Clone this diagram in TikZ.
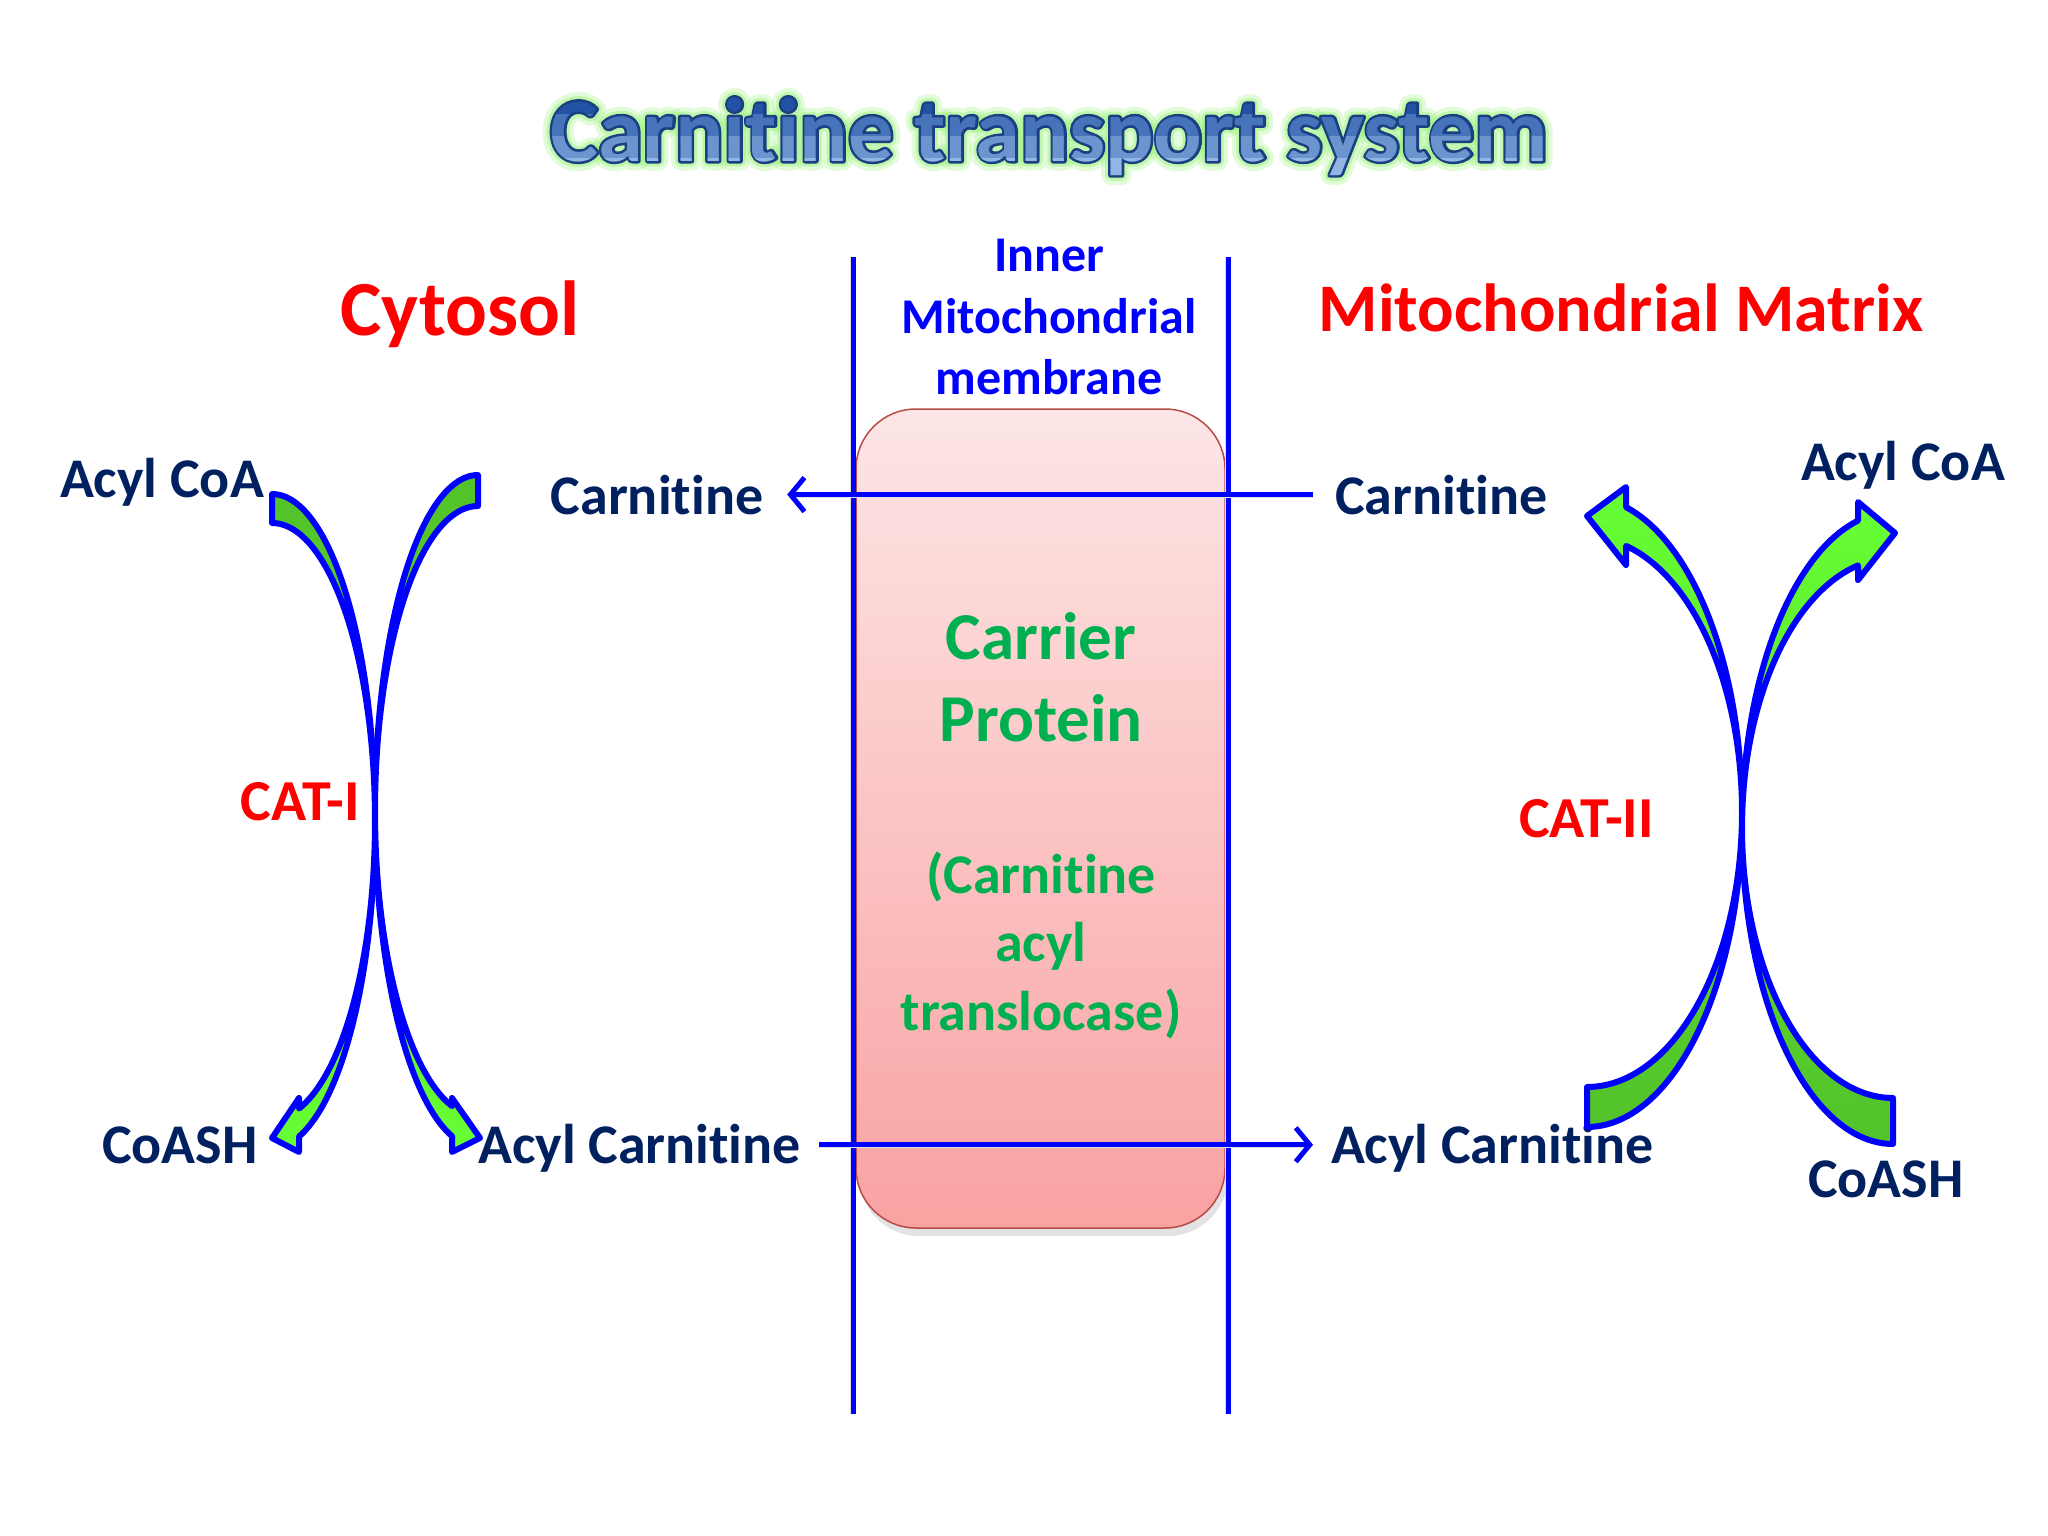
\documentclass[tikz,border=0pt]{standalone}
\usepackage{fontspec}
\setmainfont{Carlito}[Ligatures={NoCommon,NoContextual}, RawFeature={-calt}]
\usetikzlibrary{arrows.meta,shadows}
\definecolor{navy}{HTML}{002060}
\definecolor{myred}{HTML}{FF0000}
\definecolor{myblue}{HTML}{0000FF}
\definecolor{mygreen}{HTML}{00B050}
\definecolor{gdark}{HTML}{52C22A}
\definecolor{glight}{HTML}{66FF33}
\definecolor{pinktop}{HTML}{FDE6E6}
\definecolor{pinkbot}{HTML}{F9A2A2}
\definecolor{boxedge}{HTML}{B84A48}
\definecolor{titleline}{HTML}{1B3F80}
\definecolor{titletop}{HTML}{2152A3}
\definecolor{titlebot}{HTML}{92B7E6}
\definecolor{glow}{HTML}{8CF26A}
\newcommand{\myfs}[2]{\fontsize{#1}{#2}\selectfont\bfseries}
\newcommand{\titletext}{Carnitine transport system}
% text drawn with its outline stroked (PDF text render mode 2)
\newcommand{\strk}[3]{\special{pdf:literal direct 2 Tr #1 w 1 j #2 RG}#3\special{pdf:literal direct 0 Tr}}
\tikzset{
  txt/.style={inner sep=0pt, outer sep=0pt},
  titlestyle/.style={txt, font=\myfs{90.5}{95}, anchor=base},
  chem/.style={txt, text=navy, font=\myfs{56}{60}},
  enzyme/.style={txt, text=myred, font=\myfs{58}{60}},
  region/.style={txt, text=myred},
  memb/.style={txt, text=myblue, font=\myfs{50}{61.5}, align=center},
  protein/.style={txt, text=mygreen, align=center},
  membline/.style={draw=myblue, line width=5pt},
  shdw/.style={draw=black!13, line width=6pt, xshift=3pt, yshift=-4pt},
  flux/.style={draw=myblue, line width=5pt, -{Straight Barb[length=14pt,width=34pt]}},
  bendarrow/.style={draw=myblue, line width=6pt, line join=round},
  plt/.style={samples=90, variable=\t},
}
\begin{document}
\begin{tikzpicture}[x=1pt,y=-1pt]
\path[use as bounding box, fill=white] (0,0) rectangle (2048,1536);

% ---------- title ----------
\node[titlestyle, text=glow, opacity=0.25] at (1049,161) {\strk{19}{0.55 0.95 0.42}{\titletext}};
\node[titlestyle, text=glow, opacity=0.4] at (1049,161) {\strk{11}{0.55 0.95 0.42}{\titletext}};
\node[titlestyle, text=titleline] (title) at (1049,161) {\strk{5}{0.106 0.247 0.502}{\titletext}};
\foreach \i in {0,...,3} {
  \pgfmathtruncatemacro{\p}{100-\i*33}
  \begin{scope}
    \clip (500,{93+\i*22}) rectangle (1600,{93+(\i+1)*22+0.6});
    \node[titlestyle, text=titletop!\p!titlebot] at (1049,161) {\titletext};
  \end{scope}
}

% ---------- region labels ----------
\node[region, font=\myfs{78}{80}, anchor=base] (cytosol) at (460,335) {Cytosol};
\node[region, font=\myfs{68}{70}, anchor=base] (matrix) at (1621,331) {Mitochondrial Matrix};
\node[memb] (membrane) at (1049,317) {Inner\\Mitochondrial\\membrane};

% ---------- carrier protein ----------
\node[draw=boxedge, line width=1.5pt, top color=pinktop, bottom color=pinkbot,
      rounded corners=60pt, minimum width=369pt, minimum height=819pt,
      drop shadow={shadow xshift=3pt, shadow yshift=-8pt, opacity=0.22}] (box) at (1040.5,818.5) {};
\node[protein, font=\myfs{67}{82}] (carrier) at (1041,677) {Carrier\\Protein};
\node[protein, font=\myfs{56}{68.5}] (translocase) at (1041,945) {(Carnitine\\acyl\\translocase)};

% ---------- membrane lines ----------
\coordinate (mlTop) at (853,257);
\coordinate (mlBot) at (853,1414);
\coordinate (mrTop) at (1228,257);
\coordinate (mrBot) at (1228,1414);
\draw[shdw] (mlTop) -- (mlBot);
\draw[shdw] (mrTop) -- (mrBot);
\draw[membline] (mlTop) -- (mlBot);
\draw[membline] (mrTop) -- (mrBot);

% ---------- metabolite labels ----------
\node[chem, anchor=base west] (acylcoaL) at (60,497) {Acyl CoA};
\node[chem, anchor=base west] (coashL) at (102,1163) {CoASH};
\node[chem, anchor=base] (carnL) at (657,514) {Carnitine};
\node[chem, anchor=base] (acylcarnL) at (639.5,1163) {Acyl Carnitine};
\node[chem, anchor=base west] (carnR) at (1335,514) {Carnitine};
\node[chem, anchor=base west] (acylcarnR) at (1331,1163) {Acyl Carnitine};
\node[chem, anchor=base west] (acylcoaR) at (1801,480) {Acyl CoA};
\node[chem, anchor=base west] (coashR) at (1808,1197) {CoASH};
\node[enzyme, anchor=base east] (cat1) at (360,820) {CAT-I};
\node[enzyme, anchor=base west] (cat2) at (1519,837) {CAT-II};

% ---------- transport arrows ----------
\draw[shdw, shorten <=22pt, shorten >=30pt] (carnR.west) -- (carnL.east);
\draw[shdw, shorten <=18pt, shorten >=24pt] ([yshift=3pt]acylcarnL.east) -- ([yshift=3pt]acylcarnR.west);
\draw[flux, shorten <=22pt, shorten >=24pt] (carnR.west) -- (carnL.east);
\draw[flux, shorten <=18pt, shorten >=18pt] ([yshift=3pt]acylcarnL.east) -- ([yshift=3pt]acylcarnR.west);

% ---------- CAT-I curved arrows ----------
\path[bendarrow, top color=gdark, bottom color=glight]
  plot[plt, domain=-90:74.8] ({272+103*cos(\t)},{821+298*sin(\t)})
  -- (299,1098) -- (272,1138) -- (299,1152)
  -- plot[plt, domain=74.8:-90] ({272+103*cos(\t)},{821+327*sin(\t)}) -- cycle;
\path[bendarrow, top color=gdark, bottom color=glight]
  plot[plt, domain=-90:75.4] ({478-103*cos(\t)},{811+305*sin(\t)})
  -- (452,1098) -- (480,1138) -- (452,1152)
  -- plot[plt, domain=75.4:-90] ({478-103*cos(\t)},{811+336*sin(\t)}) -- cycle;

% ---------- CAT-II curved arrows ----------
\path[bendarrow, top color=glight, bottom color=gdark]
  plot[plt, domain=90:-75.4] ({1587+155*cos(\t)},{812+275*sin(\t)})
  -- (1626,565) -- (1587,516) -- (1626,487)
  -- plot[plt, domain=-75.4:90] ({1587+155*cos(\t)},{812+315*sin(\t)}) -- cycle;
\path[bendarrow, top color=glight, bottom color=gdark]
  plot[plt, domain=90:-76.6] ({1893-151*cos(\t)},{828+270*sin(\t)})
  -- (1858,580) -- (1895,533) -- (1858,502)
  -- plot[plt, domain=-76.6:90] ({1893-151*cos(\t)},{828+316*sin(\t)}) -- cycle;
\end{tikzpicture}
\end{document}
